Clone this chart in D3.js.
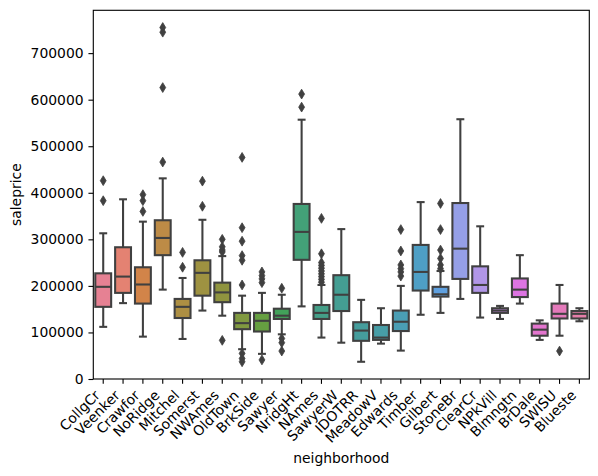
<!DOCTYPE html>
<html>
<head>
<meta charset="utf-8">
<script src="https://cdn.jsdelivr.net/npm/d3@7"></script>
<style>
  body { margin: 0; background: #fff; }
  text { font-family: "DejaVu Sans", sans-serif; }
</style>
</head>
<body>
<div id="chart"></div>
<script>
// box statistics (sale price in dollars)
const neighborhoods = ["CollgCr", "Veenker", "Crawfor", "NoRidge", "Mitchel", "Somerst", "NWAmes",
  "OldTown", "BrkSide", "Sawyer", "NridgHt", "NAmes", "SawyerW", "IDOTRR", "MeadowV", "Edwards",
  "Timber", "Gilbert", "StoneBr", "ClearCr", "NPkVill", "Blmngtn", "BrDale", "SWISU", "Blueste"];

const whiskerLow = [112000, 163000, 91000, 192000, 86000, 147000, 136000, 64000, 54000, 96000,
  156000, 89000, 78000, 37000, 76000, 61000, 138000, 142000, 172000, 132000, 129000, 162000, 84000, 93000, 124000];
const q1 = [155000, 185000, 162000, 266000, 131000, 179000, 165000, 107000, 102000, 129000,
  256000, 129000, 146000, 82000, 84000, 103000, 190000, 177000, 215000, 185000, 142000, 176000, 93000, 130000, 130000];
const median = [198000, 220000, 203000, 303000, 155000, 228000, 186000, 120000, 125000, 136000,
  316000, 142000, 181000, 104000, 89000, 123000, 230000, 182000, 280000, 202000, 147000, 192000, 106000, 140000, 140000];
const q3 = [227000, 283000, 240000, 341000, 172000, 255000, 207000, 142000, 142000, 151000,
  376000, 159000, 223000, 122000, 116000, 147000, 288000, 198000, 378000, 242000, 152000, 216000, 119000, 162000, 146000];
const whiskerHigh = [313000, 386000, 338000, 431000, 217000, 342000, 264000, 179000, 185000, 181000,
  557000, 202000, 322000, 170000, 152000, 200000, 380000, 232000, 558000, 328000, 157000, 266000, 126000, 202000, 152000];
const outliers = [
  [383000, 426000],
  [],
  [360000, 383000, 396000],
  [466000, 626000, 745000, 755000],
  [240000, 272000],
  [371000, 425000],
  [83000, 273000, 277000, 284000, 300000],
  [37000, 44000, 55000, 202000, 255000, 265000, 296000, 325000, 476000],
  [41000, 207000, 215000, 222000, 230000],
  [60000, 78000, 87000, 195000],
  [584000, 612000],
  [208000, 214000, 220000, 226000, 232000, 238000, 244000, 250000, 269000, 345000],
  [],
  [],
  [],
  [221000, 230000, 237000, 245000, 275000, 321000],
  [],
  [237000, 245000, 259000, 277000, 321000, 377000],
  [], [], [], [], [],
  [60000],
  []
];
const yTicks = [0, 100000, 200000, 300000, 400000, 500000, 600000, 700000];

// seaborn-style husl palette (h=.01, s=.9, l=.65), desaturated to .75
const M = [[3.2406, -1.5372, -0.4986], [-0.9689, 1.8758, 0.0415], [0.0557, -0.2040, 1.0570]];
function maxChroma(L, H) {
    const hrad = H * Math.PI / 180, sinH = Math.sin(hrad), cosH = Math.cos(hrad);
    const sub1 = Math.pow(L + 16, 3) / 1560896;
    const sub2 = sub1 > 0.008856 ? sub1 : L / 903.3;
    let result = Infinity;
    M.forEach(([m1, m2, m3]) => {
        const top = (0.99915 * m1 + 1.05122 * m2 + 1.14460 * m3) * sub2;
        const rbottom = 0.86330 * m3 - 0.17266 * m2;
        const lbottom = 0.12949 * m3 - 0.38848 * m1;
        const bottom = (rbottom * sinH + lbottom * cosH) * sub2;
        [0, 1].forEach(t => {
            const C = L * (top - 1.05122 * t) / (bottom + 0.17266 * sinH * t);
            if (C > 0 && C < result) result = C;
        });
    });
    return result;
}
function huslToRgb(H, S, L) {
    const C = maxChroma(L, H) / 100 * S;
    const hrad = H * Math.PI / 180;
    const U = Math.cos(hrad) * C, V = Math.sin(hrad) * C;
    const t = (L + 16) / 116;
    const Y = Math.pow(t, 3) > 0.008856 ? Math.pow(t, 3) : (116 * t - 16) / 903.3;
    const varU = U / (13 * L) + 0.19784, varV = V / (13 * L) + 0.46834;
    const X = 0 - (9 * Y * varU) / ((varU - 4) * varV - varU * varV);
    const Z = (9 * Y - 15 * varV * Y - varV * X) / (3 * varV);
    return M.map(r => {
        const c = r[0] * X + r[1] * Y + r[2] * Z;
        const v = c <= 0.0031308 ? 12.92 * c : 1.055 * Math.pow(c, 1 / 2.4) - 0.055;
        return Math.max(0, Math.min(1, v));
    });
}
const n = neighborhoods.length;
const colors = d3.range(n).map(i => {
    const h = ((i / n + 0.01) % 1) * 359;
    const [r, g, b] = huslToRgb(h, 0.9 * 99, 0.65 * 99);
    const c = d3.hsl(d3.rgb(r * 255, g * 255, b * 255));
    c.s *= 0.75;
    return c;
});
const lum = d3.min(colors, c => c.l) * 0.6;
const gray = d3.rgb(Math.round(lum * 255), Math.round(lum * 255), Math.round(lum * 255)).formatHex();

const width = 598, height = 476;
const margin = { left: 93.3, right: 8.7, top: 10.3, bottom: 97 };
const fontSize = 13.9, tick = 4.86, lw = 2.08;

const svg = d3.select("#chart").append("svg")
    .attr("width", width)
    .attr("height", height);

const x = d3.scaleBand()
    .domain(neighborhoods)
    .range([margin.left, width - margin.right])
    .padding(0);

const y = d3.scaleLinear()
    .domain([0, 792000])
    .range([height - margin.bottom, margin.top]);

const bw = x.bandwidth();

const boxes = svg.append("g")
    .selectAll("g")
    .data(neighborhoods)
    .enter().append("g");

boxes.each(function (name, i) {
    const g = d3.select(this);
    const cx = x(name) + bw / 2;
    const half = bw * 0.4, cap = bw * 0.2;

    g.append("line")
        .attr("x1", cx).attr("x2", cx)
        .attr("y1", y(q3[i])).attr("y2", y(whiskerHigh[i]));
    g.append("line")
        .attr("x1", cx).attr("x2", cx)
        .attr("y1", y(q1[i])).attr("y2", y(whiskerLow[i]));
    g.append("line")
        .attr("x1", cx - cap).attr("x2", cx + cap)
        .attr("y1", y(whiskerHigh[i])).attr("y2", y(whiskerHigh[i]));
    g.append("line")
        .attr("x1", cx - cap).attr("x2", cx + cap)
        .attr("y1", y(whiskerLow[i])).attr("y2", y(whiskerLow[i]));
    g.selectAll("line")
        .attr("stroke", gray)
        .attr("stroke-width", lw);

    g.append("rect")
        .attr("x", cx - half)
        .attr("width", half * 2)
        .attr("y", y(q3[i]))
        .attr("height", y(q1[i]) - y(q3[i]))
        .attr("fill", colors[i])
        .attr("stroke", gray)
        .attr("stroke-width", lw);

    g.append("line")
        .attr("x1", cx - half).attr("x2", cx + half)
        .attr("y1", y(median[i])).attr("y2", y(median[i]))
        .attr("stroke", gray)
        .attr("stroke-width", lw);

    g.selectAll("path.flier")
        .data(outliers[i])
        .enter().append("path")
        .attr("class", "flier")
        .attr("d", "M0,-4.9L2.95,0L0,4.9L-2.95,0Z")
        .attr("transform", d => `translate(${cx},${y(d)})`)
        .attr("fill", gray)
        .attr("stroke", gray)
        .attr("stroke-width", 0.8);
});

// axes
const xAxis = svg.append("g")
    .attr("transform", `translate(0,${height - margin.bottom})`)
    .call(d3.axisBottom(x).tickSize(tick).tickSizeOuter(0).tickPadding(tick));

xAxis.selectAll("text")
    .attr("y", null)
    .attr("dy", null)
    .attr("text-anchor", "end")
    .attr("transform", "translate(-2.3,17.2) rotate(-45)");

const yAxis = svg.append("g")
    .attr("transform", `translate(${margin.left},0)`)
    .call(d3.axisLeft(y).tickValues(yTicks).tickFormat(d3.format("d"))
        .tickSize(tick).tickSizeOuter(0).tickPadding(tick));

[xAxis, yAxis].forEach(a => {
    a.select(".domain").remove();
    a.selectAll("line").attr("stroke", "#000").attr("stroke-width", 1.11);
    a.selectAll("text")
        .attr("fill", "#000")
        .style("font-size", fontSize + "px")
        .style("font-family", "'DejaVu Sans', sans-serif");
});

svg.append("rect")
    .attr("x", margin.left)
    .attr("y", margin.top)
    .attr("width", width - margin.left - margin.right)
    .attr("height", height - margin.top - margin.bottom)
    .attr("fill", "none")
    .attr("stroke", "#000")
    .attr("stroke-width", 1.11);

svg.append("text")
    .attr("x", (margin.left + width - margin.right) / 2)
    .attr("y", 463)
    .attr("text-anchor", "middle")
    .style("font-size", fontSize + "px")
    .text("neighborhood");

svg.append("text")
    .attr("transform", `translate(21,${(margin.top + height - margin.bottom) / 2}) rotate(-90)`)
    .attr("text-anchor", "middle")
    .style("font-size", fontSize + "px")
    .text("saleprice");
</script>
</body>
</html>
